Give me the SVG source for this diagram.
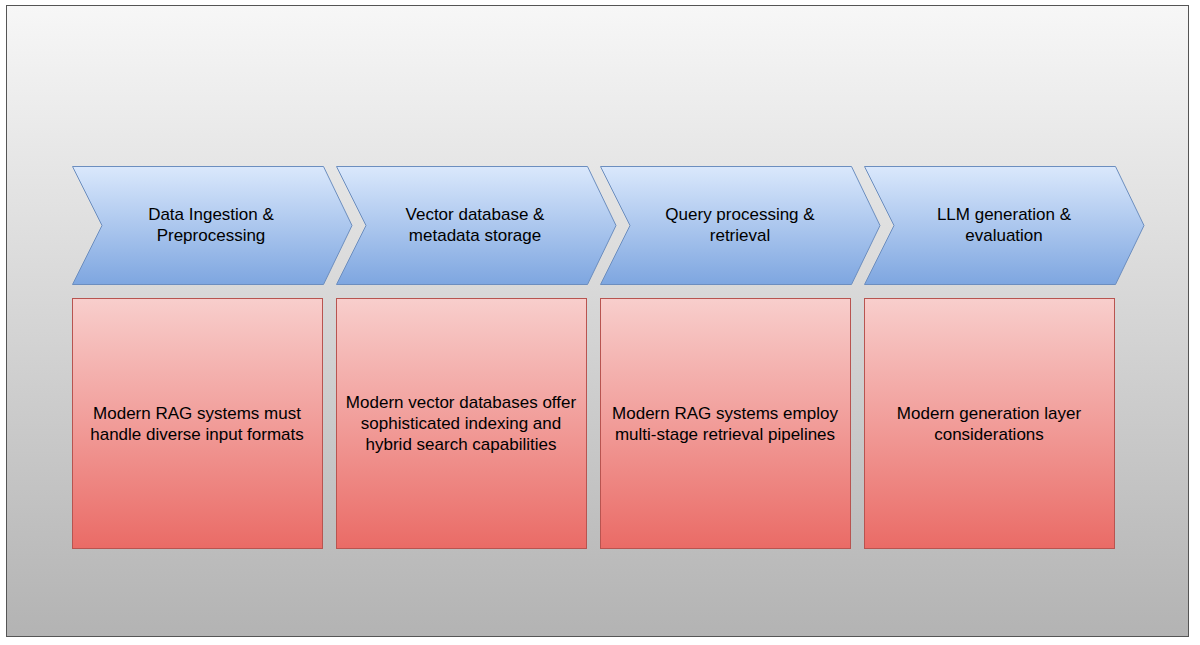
<svg xmlns="http://www.w3.org/2000/svg" width="1200" height="645" viewBox="0 0 1200 645">
<style>
.chev{fill:url(#gb);stroke:#6c8ebf;stroke-width:1}
.box{fill:url(#gr);stroke:#b85450;stroke-width:1}
text{font-family:"Liberation Sans",Arial,sans-serif;font-size:17px;fill:#000;text-anchor:middle}
</style>
<defs>
<linearGradient id="gbg" x1="0" y1="0" x2="0" y2="1"><stop offset="0" stop-color="#f7f7f7"/><stop offset="1" stop-color="#b3b3b3"/></linearGradient>
<linearGradient id="gb" x1="0" y1="0" x2="0" y2="1"><stop offset="0" stop-color="#dae8fc"/><stop offset="1" stop-color="#7ea6e0"/></linearGradient>
<linearGradient id="gr" x1="0" y1="0" x2="0" y2="1"><stop offset="0" stop-color="#f8cecc"/><stop offset="1" stop-color="#ea6b66"/></linearGradient>
</defs>
<rect width="1200" height="645" fill="#fff"/>
<rect x="6.5" y="5.5" width="1182" height="631" fill="url(#gbg)" stroke="#555"/>
<g id="n1"><path class="chev" d="M72.5,166.5H323.5L352,225.5L323.5,284.5H72.5L102,225.5Z"/><text x="211" y="220">Data Ingestion &amp;</text><text x="211" y="241">Preprocessing</text></g>
<g id="n2"><path class="chev" d="M336.5,166.5H587.5L616,225.5L587.5,284.5H336.5L366,225.5Z"/><text x="475" y="220">Vector database &amp;</text><text x="475" y="241">metadata storage</text></g>
<g id="n3"><path class="chev" d="M600.5,166.5H851.5L880,225.5L851.5,284.5H600.5L630,225.5Z"/><text x="740" y="220">Query processing &amp;</text><text x="740" y="241">retrieval</text></g>
<g id="n4"><path class="chev" d="M864.5,166.5H1115.5L1144,225.5L1115.5,284.5H864.5L894,225.5Z"/><text x="1004" y="220">LLM generation &amp;</text><text x="1004" y="241">evaluation</text></g>
<g id="b1"><rect class="box" x="72.5" y="298.5" width="250" height="250"/><text x="197" y="419">Modern RAG systems must</text><text x="197" y="440">handle diverse input formats</text></g>
<g id="b2"><rect class="box" x="336.5" y="298.5" width="250" height="250"/><text x="461" y="408">Modern vector databases offer</text><text x="461" y="429">sophisticated indexing and</text><text x="461" y="450">hybrid search capabilities</text></g>
<g id="b3"><rect class="box" x="600.5" y="298.5" width="250" height="250"/><text x="725" y="419">Modern RAG systems employ</text><text x="725" y="440">multi-stage retrieval pipelines</text></g>
<g id="b4"><rect class="box" x="864.5" y="298.5" width="250" height="250"/><text x="989" y="419">Modern generation layer</text><text x="989" y="440">considerations</text></g>
<g id="connectors"/>
</svg>
